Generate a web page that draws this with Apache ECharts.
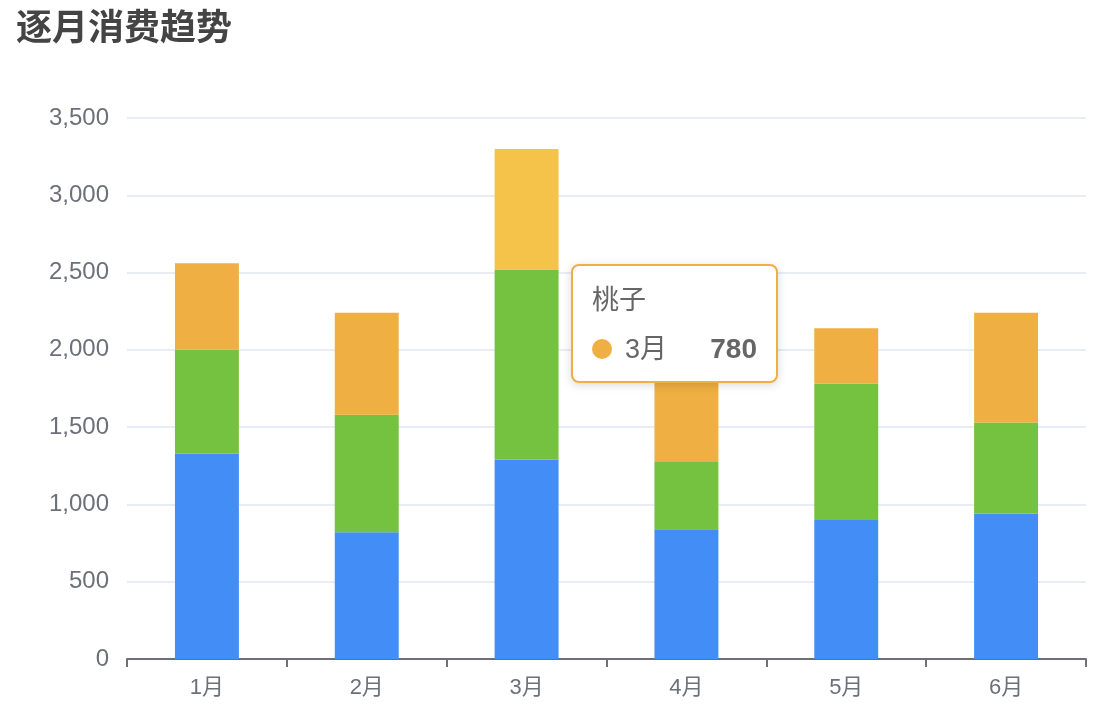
<!DOCTYPE html>
<html>
<head>
<meta charset="utf-8">
<script src="https://cdn.jsdelivr.net/npm/echarts@6/dist/echarts.min.js"></script>
<style>
html,body{margin:0;padding:0;background:#fff;}
#main{width:1116px;height:728px;}
</style>
</head>
<body>
<div id="main"></div>
<script>
const titleText = '逐月消费趋势';
const months = ['1月', '2月', '3月', '4月', '5月', '6月'];
const seriesNames = ['苹果', '葡萄', '桃子'];
const appleValues = [1330, 820, 1290, 840, 900, 940];
const grapeValues = [670, 760, 1230, 440, 880, 590];
const peachValues = [560, 660, 780, 600, 360, 710];
const yTicks = { min: 0, max: 3500, interval: 500 };
const colors = ['#428EF6', '#74C23F', '#EFAF42'];

const FONT = '"Liberation Sans", "Noto Sans CJK SC", sans-serif';
const chart = echarts.init(document.getElementById('main'));
const dataSets = [appleValues, grapeValues, peachValues];

chart.setOption({
  animation: false,
  textStyle: { fontFamily: FONT },
  title: {
    text: titleText,
    left: 11,
    top: 7,
    textStyle: { fontSize: 36, fontWeight: 'bold', color: '#444', fontFamily: FONT }
  },
  grid: { left: 127, right: 30, top: 118, bottom: 69 },
  tooltip: {
    trigger: 'item',
    alwaysShowContent: true,
    backgroundColor: '#fff',
    borderWidth: 2,
    borderRadius: 8,
    padding: [19, 19, 17, 19],
    position: function () { return [571, 264]; },
    extraCssText: 'box-shadow:0 2px 10px rgba(0,0,0,0.15);',
    formatter: function (p) {
      return '<div style="width:165px;font-family:' + FONT.replace(/"/g, "'") + ';color:#666;">' +
        '<div style="font-size:27px;line-height:30px;height:30px;">' + p.seriesName + '</div>' +
        '<div style="margin-top:19px;height:30px;line-height:30px;display:flex;align-items:center;justify-content:space-between;">' +
          '<span style="display:flex;align-items:center;">' +
            '<span style="display:inline-block;width:20px;height:20px;border-radius:50%;background:' + p.color + ';"></span>' +
            '<span style="margin-left:13px;font-size:27px;">' + p.name + '</span>' +
          '</span>' +
          '<span style="font-size:28px;font-weight:bold;color:#666;">' + p.value + '</span>' +
        '</div></div>';
    }
  },
  xAxis: {
    type: 'category',
    data: months,
    axisLine: { lineStyle: { color: '#6E7079', width: 2 } },
    axisTick: { show: true, length: 8, lineStyle: { color: '#6E7079', width: 2 } },
    axisLabel: { fontSize: 22, color: '#6E7079', margin: 18, fontFamily: FONT }
  },
  yAxis: {
    type: 'value',
    min: yTicks.min,
    max: yTicks.max,
    interval: yTicks.interval,
    axisLabel: {
      fontSize: 24, color: '#6E7079', margin: 18, fontFamily: FONT,
      formatter: v => v.toLocaleString('en-US')
    },
    splitLine: { lineStyle: { color: '#E0E6F1', width: 1.5 } }
  },
  series: seriesNames.map((name, i) => ({
    name: name,
    type: 'bar',
    stack: 'total',
    barWidth: '40%',
    data: dataSets[i],
    itemStyle: { color: colors[i] },
    emphasis: { itemStyle: { color: i === 2 ? '#F5C24A' : colors[i] } }
  }))
});

setTimeout(function () {
  chart.dispatchAction({ type: 'highlight', seriesIndex: 2, dataIndex: 2 });
  chart.dispatchAction({ type: 'showTip', seriesIndex: 2, dataIndex: 2 });
}, 50);
</script>
</body>
</html>
